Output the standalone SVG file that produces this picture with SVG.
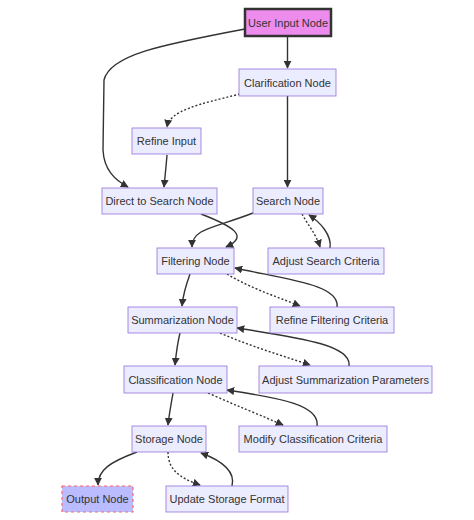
<svg xmlns="http://www.w3.org/2000/svg" width="474" height="520" viewBox="0 0 474 520">
<style>
.n rect{fill:#ECECFF;stroke:#9370DB;stroke-width:0.8}
.n text{font-family:"Trebuchet MS","Liberation Sans",sans-serif;font-size:11px;fill:#333;text-anchor:middle;dominant-baseline:central}
.e{fill:none;stroke:#333;stroke-width:1.4}
.d{stroke-dasharray:2 2}
</style>
<defs>
<marker id="ah" viewBox="0 0 10 10" refX="9" refY="5" markerWidth="8" markerHeight="8" markerUnits="userSpaceOnUse" orient="auto">
<path d="M0,0 L10,5 L0,10 z" fill="#333"/>
</marker>
</defs>
<rect width="474" height="520" fill="#fff"/>
<g id="edges">
<path class="e" d="M287.5,36 L287.5,68" marker-end="url(#ah)"/>
<path class="e" d="M245,29 C160,45 110,55 104,80 L103,150 C104,170 115,180 128,187" marker-end="url(#ah)"/>
<path class="e d" d="M240,94 C200,104 170,110 167,127" marker-end="url(#ah)"/>
<path class="e" d="M287.5,96 L287.5,187" marker-end="url(#ah)"/>
<path class="e" d="M167,155 C166,168 165,176 164,187" marker-end="url(#ah)"/>
<path class="e" d="M201,214 C232,226 250,236 226,247" marker-end="url(#ah)"/>
<path class="e" d="M253,213 C215,228 192,228 192,247" marker-end="url(#ah)"/>
<path class="e d" d="M302,214 C308,225 316,234 320,247" marker-end="url(#ah)"/>
<path class="e" d="M330,248 C332,235 320,222 309,215" marker-end="url(#ah)"/>
<path class="e" d="M190,274 C186,285 183,295 182,306" marker-end="url(#ah)"/>
<path class="e d" d="M227,274 C250,288 275,296 300,306" marker-end="url(#ah)"/>
<path class="e" d="M337,307 C340,285 290,280 235,268" marker-end="url(#ah)"/>
<path class="e" d="M180,333 C177,345 176,355 175,365" marker-end="url(#ah)"/>
<path class="e d" d="M220,333 C250,346 280,355 310,365" marker-end="url(#ah)"/>
<path class="e" d="M349,366 C352,345 300,338 237,328" marker-end="url(#ah)"/>
<path class="e" d="M173,393 C171,405 169,415 168,425" marker-end="url(#ah)"/>
<path class="e d" d="M208,393 C235,405 260,415 283,425" marker-end="url(#ah)"/>
<path class="e" d="M317,426 C320,405 280,398 227,390" marker-end="url(#ah)"/>
<path class="e" d="M137,452 C110,462 98,470 98,485" marker-end="url(#ah)"/>
<path class="e d" d="M168,452 C168,470 180,478 200,485" marker-end="url(#ah)"/>
<path class="e" d="M232,486 C236,470 220,460 201,453" marker-end="url(#ah)"/>
</g>
<g id="user_input" class="n"><rect x="245" y="9" width="86" height="27" style="fill:#ee8cee;stroke:#333;stroke-width:2.5"/><text x="288" y="22.5">User Input Node</text></g>
<g id="clarification" class="n"><rect x="239" y="69" width="97" height="27"/><text x="287.5" y="82.5">Clarification Node</text></g>
<g id="refine_input" class="n"><rect x="132" y="128" width="69" height="26"/><text x="166.5" y="141">Refine Input</text></g>
<g id="direct_search" class="n"><rect x="102" y="188" width="115" height="26"/><text x="159.5" y="201">Direct to Search Node</text></g>
<g id="search" class="n"><rect x="253" y="188" width="70" height="26"/><text x="288" y="201">Search Node</text></g>
<g id="filtering" class="n"><rect x="157" y="248" width="77" height="26"/><text x="195.5" y="261">Filtering Node</text></g>
<g id="adjust_search" class="n"><rect x="268" y="248" width="116" height="26"/><text x="326" y="261">Adjust Search Criteria</text></g>
<g id="summarization" class="n"><rect x="128" y="307" width="109" height="26"/><text x="182.5" y="320">Summarization Node</text></g>
<g id="refine_filtering" class="n"><rect x="270" y="307" width="124" height="26"/><text x="332" y="320">Refine Filtering Criteria</text></g>
<g id="classification" class="n"><rect x="124" y="366" width="103" height="27"/><text x="175.5" y="379.5">Classification Node</text></g>
<g id="adjust_summ" class="n"><rect x="259" y="366" width="173" height="27"/><text x="345.5" y="379.5">Adjust Summarization Parameters</text></g>
<g id="storage" class="n"><rect x="132" y="426" width="74" height="26"/><text x="169" y="439">Storage Node</text></g>
<g id="modify_class" class="n"><rect x="239" y="426" width="148" height="26"/><text x="313" y="439">Modify Classification Criteria</text></g>
<g id="output" class="n"><rect x="62" y="486" width="71" height="26" style="fill:#bbf;stroke:#f66;stroke-width:1.2;stroke-dasharray:3 3"/><text x="97.5" y="499">Output Node</text></g>
<g id="update_storage" class="n"><rect x="166" y="486" width="122" height="26"/><text x="227" y="499">Update Storage Format</text></g>
</svg>
